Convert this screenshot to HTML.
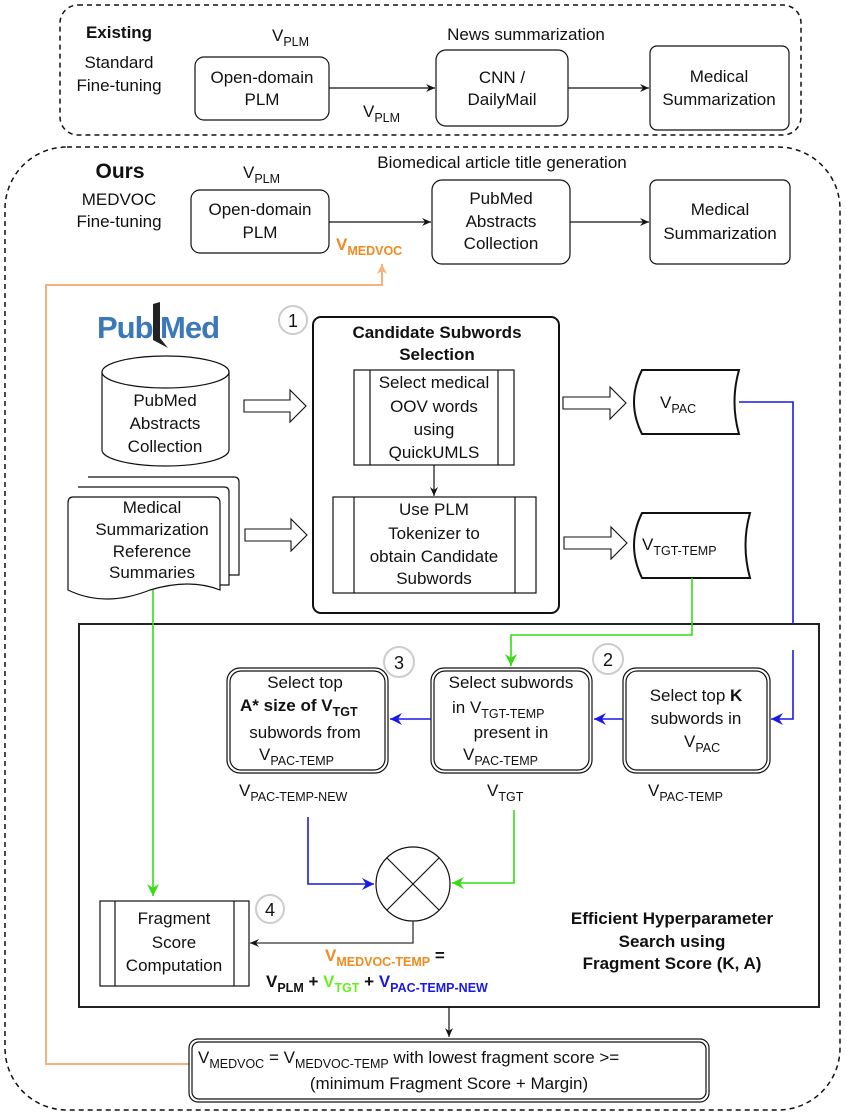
<!DOCTYPE html>
<html><head><meta charset="utf-8"><style>
html,body{margin:0;padding:0;background:#fff}
svg{display:block}
text{font-family:"Liberation Sans",Arial,sans-serif;font-size:17px;fill:#111}
.b{font-weight:bold}
.s{font-size:12.5px}
</style></head><body>
<svg width="846" height="1117" viewBox="0 0 846 1117" xmlns="http://www.w3.org/2000/svg">
<defs>
<marker id="ak" markerWidth="10" markerHeight="10" refX="9" refY="5" orient="auto" markerUnits="userSpaceOnUse"><path d="M0,1 L9,5 L0,9 L3,5 z" fill="#111"/></marker>
<marker id="ab" markerWidth="14" markerHeight="14" refX="12" refY="7" orient="auto" markerUnits="userSpaceOnUse"><path d="M0,1 L12,7 L0,13 L4,7 z" fill="#1a1ae6"/></marker>
<marker id="ag" markerWidth="14" markerHeight="14" refX="12" refY="7" orient="auto" markerUnits="userSpaceOnUse"><path d="M0,1 L12,7 L0,13 L4,7 z" fill="#33dd11"/></marker>
<marker id="ao" markerWidth="12" markerHeight="12" refX="10" refY="6" orient="auto" markerUnits="userSpaceOnUse"><path d="M0,1 L10,6 L0,11 L3,6 z" fill="#f5b27a"/></marker>
</defs>

<!-- top existing -->
<rect x="60" y="5" width="741" height="130" rx="18" fill="none" stroke="#111" stroke-width="1.5" stroke-dasharray="5,4"/>
<text x="119" y="38" text-anchor="middle" class="b">Existing</text>
<text x="119" y="68" text-anchor="middle">Standard</text>
<text x="119" y="91" text-anchor="middle">Fine-tuning</text>
<text x="272" y="41">V<tspan class="s" dy="5">PLM</tspan></text>
<rect x="195" y="57" width="134" height="63" rx="9" fill="#fff" stroke="#111" stroke-width="1.2"/>
<text x="262" y="83" text-anchor="middle">Open-domain</text>
<text x="262" y="105" text-anchor="middle">PLM</text>
<line x1="329" y1="88" x2="435" y2="88" stroke="#111" stroke-width="1.2" marker-end="url(#ak)"/>
<text x="363" y="117">V<tspan class="s" dy="5">PLM</tspan></text>
<text x="526" y="40" text-anchor="middle">News summarization</text>
<rect x="436" y="50" width="132" height="76" rx="10" fill="#fff" stroke="#111" stroke-width="1.2"/>
<text x="502" y="83" text-anchor="middle">CNN /</text>
<text x="502" y="105" text-anchor="middle">DailyMail</text>
<line x1="568" y1="88" x2="649" y2="88" stroke="#111" stroke-width="1.2" marker-end="url(#ak)"/>
<rect x="650" y="46" width="139" height="84" rx="7" fill="#fff" stroke="#111" stroke-width="1.2"/>
<text x="719" y="82" text-anchor="middle">Medical</text>
<text x="719" y="105" text-anchor="middle">Summarization</text>

<!-- ours outer -->
<rect x="5" y="147" width="835" height="963" rx="62" fill="none" stroke="#111" stroke-width="1.5" stroke-dasharray="5,4"/>
<text x="120" y="178" text-anchor="middle" class="b" style="font-size:21px">Ours</text>
<text x="119" y="205" text-anchor="middle">MEDVOC</text>
<text x="119" y="227" text-anchor="middle">Fine-tuning</text>
<text x="243" y="178">V<tspan class="s" dy="5">PLM</tspan></text>
<text x="502" y="168" text-anchor="middle">Biomedical article title generation</text>
<rect x="191" y="190" width="138" height="63" rx="9" fill="#fff" stroke="#111" stroke-width="1.2"/>
<text x="260" y="215" text-anchor="middle">Open-domain</text>
<text x="260" y="238" text-anchor="middle">PLM</text>
<line x1="329" y1="222" x2="431" y2="222" stroke="#111" stroke-width="1.2" marker-end="url(#ak)"/>
<rect x="432" y="180" width="138" height="84" rx="10" fill="#fff" stroke="#111" stroke-width="1.2"/>
<text x="501" y="204" text-anchor="middle">PubMed</text>
<text x="501" y="227" text-anchor="middle">Abstracts</text>
<text x="501" y="249" text-anchor="middle">Collection</text>
<line x1="570" y1="222" x2="649" y2="222" stroke="#111" stroke-width="1.2" marker-end="url(#ak)"/>
<rect x="650" y="180" width="140" height="84" rx="7" fill="#fff" stroke="#111" stroke-width="1.2"/>
<text x="720" y="215" text-anchor="middle">Medical</text>
<text x="720" y="239" text-anchor="middle">Summarization</text>
<text x="336" y="250" class="b" style="fill:#f08a1e">V<tspan class="s b" dy="5" style="fill:#f08a1e">MEDVOC</tspan></text>

<!-- orange loop -->
<polyline points="189,1064 46,1064 46,285 382,285 382,264" fill="none" stroke="#f5b27a" stroke-width="2" marker-end="url(#ao)"/>

<!-- PubMed logo -->
<text x="97" y="338" class="b" style="font-size:31px;fill:#3a78b8;letter-spacing:-1px">Pub</text>
<path d="M153,304 L160,302 L160,338 L168,348 L153,340 z" fill="#222"/>
<text x="160" y="338" class="b" style="font-size:31px;fill:#3a78b8;letter-spacing:-1px">Med</text>

<!-- circle 1 -->
<circle cx="293" cy="320" r="14" fill="#fff" stroke="#ccc" stroke-width="2"/>
<text x="293" y="327" text-anchor="middle" style="font-size:18px">1</text>

<!-- cylinder -->
<path d="M102,372 L102,450 A63.5,16 0 0 0 229,450 L229,372" fill="#fff" stroke="#111" stroke-width="1.2"/>
<ellipse cx="165.5" cy="372" rx="63.5" ry="16" fill="#fff" stroke="#111" stroke-width="1.2"/>
<text x="165" y="406" text-anchor="middle">PubMed</text>
<text x="165" y="429" text-anchor="middle">Abstracts</text>
<text x="165" y="452" text-anchor="middle">Collection</text>

<!-- document stack -->
<path d="M88,477 L234,477 Q239,477 239,482 L239,575 L226,575" fill="#fff" stroke="#111" stroke-width="1.2"/>
<path d="M78,487 L224,487 Q229,487 229,492 L229,585 L220,585" fill="#fff" stroke="#111" stroke-width="1.2"/>
<path d="M73,497 L214,497 Q220,497 220,503 L220,590 Q190,578 150,590 Q105,608 68,590 L68,503 Q68,497 73,497 z" fill="#fff" stroke="#111" stroke-width="1.2"/>
<text x="152" y="513" text-anchor="middle">Medical</text>
<text x="152" y="535" text-anchor="middle">Summarization</text>
<text x="152" y="557" text-anchor="middle">Reference</text>
<text x="152" y="578" text-anchor="middle">Summaries</text>

<!-- hollow arrows -->
<path d="M244,400 L290,400 L290,390 L306,406 L290,422 L290,412 L244,412 z" fill="#fff" stroke="#111" stroke-width="1.1"/>
<path d="M245,529 L291,529 L291,519 L307,535 L291,551 L291,541 L245,541 z" fill="#fff" stroke="#111" stroke-width="1.1"/>
<path d="M563,397 L610,397 L610,387 L626,403 L610,419 L610,409 L563,409 z" fill="#fff" stroke="#111" stroke-width="1.1"/>
<path d="M564,537 L611,537 L611,527 L627,543 L611,559 L611,549 L564,549 z" fill="#fff" stroke="#111" stroke-width="1.1"/>

<!-- candidate box -->
<rect x="313" y="317" width="246" height="296" rx="8" fill="#fff" stroke="#111" stroke-width="2"/>
<text x="437" y="338" text-anchor="middle" class="b">Candidate Subwords</text>
<text x="437" y="360" text-anchor="middle" class="b">Selection</text>
<rect x="354" y="370" width="160" height="95" fill="#fff" stroke="#111" stroke-width="1.2"/>
<line x1="370" y1="370" x2="370" y2="465" stroke="#111" stroke-width="1.2"/>
<line x1="498" y1="370" x2="498" y2="465" stroke="#111" stroke-width="1.2"/>
<text x="434" y="388" text-anchor="middle">Select medical</text>
<text x="434" y="412" text-anchor="middle">OOV words</text>
<text x="434" y="435" text-anchor="middle">using</text>
<text x="434" y="458" text-anchor="middle">QuickUMLS</text>
<line x1="434" y1="465" x2="434" y2="496" stroke="#111" stroke-width="1.2" marker-end="url(#ak)"/>
<rect x="333" y="497" width="203" height="96" fill="#fff" stroke="#111" stroke-width="1.2"/>
<line x1="354" y1="497" x2="354" y2="593" stroke="#111" stroke-width="1.2"/>
<line x1="515" y1="497" x2="515" y2="593" stroke="#111" stroke-width="1.2"/>
<text x="434" y="515" text-anchor="middle">Use PLM</text>
<text x="434" y="539" text-anchor="middle">Tokenizer to</text>
<text x="434" y="562" text-anchor="middle">obtain Candidate</text>
<text x="434" y="584" text-anchor="middle">Subwords</text>

<!-- V_PAC / V_TGT-TEMP tape shapes -->
<path d="M642,370 L739,370 Q730,402 739,434 L642,434 Q626,402 642,370 z" fill="#fff" stroke="#111" stroke-width="2"/>
<text x="660" y="408">V<tspan class="s" dy="5">PAC</tspan></text>
<path d="M642,513 L750,513 Q741,545 750,578 L642,578 Q626,545 642,513 z" fill="#fff" stroke="#111" stroke-width="2"/>
<text x="642" y="550">V<tspan class="s" dy="5">TGT-TEMP</tspan></text>

<!-- frame -->
<rect x="79" y="624" width="740" height="383" fill="none" stroke="#222" stroke-width="2"/>

<!-- blue line from V_PAC -->
<polyline points="739,402 793,402 793,624" fill="none" stroke="#1a1ae6" stroke-width="1.6"/>
<polyline points="793,650 793,719 771,719" fill="none" stroke="#1a1ae6" stroke-width="1.6" marker-end="url(#ab)"/>
<!-- green from V_TGT-TEMP -->
<polyline points="692,578 692,635 511,635 511,666" fill="none" stroke="#33dd11" stroke-width="1.6" marker-end="url(#ag)"/>
<!-- green from docs -->
<polyline points="153,590 153,896" fill="none" stroke="#33dd11" stroke-width="1.6" marker-end="url(#ag)"/>

<!-- circles 2 3 -->
<circle cx="608" cy="659" r="15" fill="#fff" stroke="#ccc" stroke-width="2"/>
<text x="608" y="666" text-anchor="middle" style="font-size:18px">2</text>
<circle cx="399" cy="662" r="15" fill="#fff" stroke="#ccc" stroke-width="2"/>
<text x="399" y="669" text-anchor="middle" style="font-size:18px">3</text>

<!-- three rounded boxes -->
<rect x="623" y="668" width="147" height="105" rx="13" fill="#fff" stroke="#111" stroke-width="1.2"/>
<rect x="626" y="671" width="141" height="99" rx="11" fill="none" stroke="#111" stroke-width="1.2"/>
<text x="696" y="701" text-anchor="middle">Select top <tspan class="b">K</tspan></text>
<text x="696" y="724" text-anchor="middle">subwords in</text>
<text x="684" y="747">V<tspan class="s" dy="5">PAC</tspan></text>

<rect x="431" y="668" width="161" height="105" rx="13" fill="#fff" stroke="#111" stroke-width="1.2"/>
<rect x="434" y="671" width="155" height="99" rx="11" fill="none" stroke="#111" stroke-width="1.2"/>
<text x="511" y="688" text-anchor="middle">Select subwords</text>
<text x="452" y="713">in V<tspan class="s" dy="5">TGT-TEMP</tspan></text>
<text x="511" y="738" text-anchor="middle">present in</text>
<text x="463" y="760">V<tspan class="s" dy="5">PAC-TEMP</tspan></text>

<rect x="227" y="668" width="161" height="105" rx="13" fill="#fff" stroke="#111" stroke-width="1.2"/>
<rect x="230" y="671" width="155" height="99" rx="11" fill="none" stroke="#111" stroke-width="1.2"/>
<text x="305" y="688" text-anchor="middle">Select top</text>
<text x="240" y="711" class="b">A* size of V<tspan class="s b" dy="5">TGT</tspan></text>
<text x="305" y="738" text-anchor="middle">subwords from</text>
<text x="259" y="760">V<tspan class="s" dy="5">PAC-TEMP</tspan></text>

<line x1="623" y1="719" x2="594" y2="719" stroke="#1a1ae6" stroke-width="1.6" marker-end="url(#ab)"/>
<line x1="431" y1="719" x2="390" y2="719" stroke="#1a1ae6" stroke-width="1.6" marker-end="url(#ab)"/>

<text x="239" y="796">V<tspan class="s" dy="5">PAC-TEMP-NEW</tspan></text>
<text x="487" y="796">V<tspan class="s" dy="5">TGT</tspan></text>
<text x="648" y="796">V<tspan class="s" dy="5">PAC-TEMP</tspan></text>

<!-- to circle x -->
<polyline points="308,817 308,884 374,884" fill="none" stroke="#1a1ae6" stroke-width="1.6" marker-end="url(#ab)"/>
<polyline points="514,810 514,883 452,883" fill="none" stroke="#33dd11" stroke-width="1.6" marker-end="url(#ag)"/>
<circle cx="413" cy="884" r="37" fill="#fff" stroke="#111" stroke-width="1.2"/>
<line x1="387" y1="858" x2="439" y2="910" stroke="#111" stroke-width="1.1"/>
<line x1="439" y1="858" x2="387" y2="910" stroke="#111" stroke-width="1.1"/>
<polyline points="413,921 413,943 250,943" fill="none" stroke="#333" stroke-width="1.3" marker-end="url(#ak)"/>

<!-- fragment box -->
<rect x="100" y="901" width="149" height="85" fill="#fff" stroke="#111" stroke-width="1.2"/>
<line x1="115" y1="901" x2="115" y2="986" stroke="#111" stroke-width="1.2"/>
<line x1="234" y1="901" x2="234" y2="986" stroke="#111" stroke-width="1.2"/>
<text x="174" y="924" text-anchor="middle">Fragment</text>
<text x="174" y="948" text-anchor="middle">Score</text>
<text x="174" y="971" text-anchor="middle">Computation</text>
<circle cx="270" cy="909" r="14" fill="#fff" stroke="#ccc" stroke-width="2"/>
<text x="270" y="916" text-anchor="middle" style="font-size:18px">4</text>

<text x="325" y="961" class="b" style="fill:#f08a1e">V<tspan class="s b" dy="5" style="fill:#f08a1e">MEDVOC-TEMP</tspan><tspan dy="-5" style="fill:#111"> =</tspan></text>
<text x="266" y="987" class="b">V<tspan class="s b" dy="5">PLM</tspan><tspan dy="-5"> + </tspan><tspan style="fill:#66ee22">V</tspan><tspan class="s b" dy="5" style="fill:#66ee22">TGT</tspan><tspan dy="-5"> + </tspan><tspan style="fill:#1a1ae6">V</tspan><tspan class="s b" dy="5" style="fill:#1a1ae6">PAC-TEMP-NEW</tspan></text>

<text x="672" y="924" text-anchor="middle" class="b">Efficient Hyperparameter</text>
<text x="672" y="947" text-anchor="middle" class="b">Search using</text>
<text x="672" y="969" text-anchor="middle" class="b">Fragment Score (K, A)</text>

<line x1="449" y1="1007" x2="449" y2="1037" stroke="#111" stroke-width="1.2" marker-end="url(#ak)"/>

<!-- final box -->
<rect x="189" y="1039" width="520" height="63" rx="9" fill="#fff" stroke="#111" stroke-width="1.2"/>
<rect x="192" y="1042" width="514" height="57" rx="7" fill="none" stroke="#111" stroke-width="1.2"/>
<text x="198" y="1063">V<tspan class="s" dy="5">MEDVOC</tspan><tspan dy="-5"> = V</tspan><tspan class="s" dy="5">MEDVOC-TEMP</tspan><tspan dy="-5"> with lowest fragment score &gt;=</tspan></text>
<text x="449" y="1089" text-anchor="middle">(minimum Fragment Score + Margin)</text>
</svg>
</body></html>
